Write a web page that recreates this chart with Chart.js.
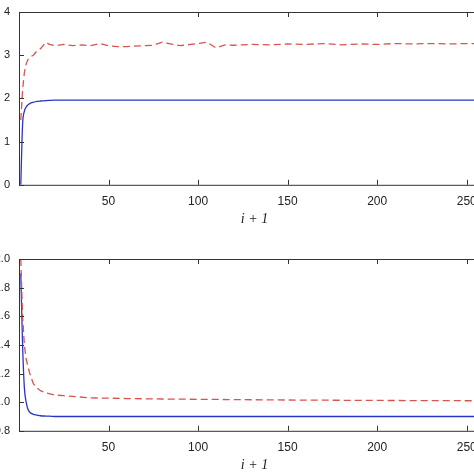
<!DOCTYPE html><html><head><script src="https://cdn.jsdelivr.net/npm/chart.js@4"></script>
<style>body{margin:0;overflow:hidden;background:#fff}.c{position:absolute;left:0;width:490px}</style></head><body>
<div class="c" style="top:0;height:228px"><canvas id="a"></canvas></div>
<div class="c" style="top:247px;height:227px"><canvas id="b"></canvas></div>
<script>
const topX=[1,2,3,4,5,6,8,10,12,15,17,20,25,30,35,40,45,50,55,60,70,75,80,90,100,105,110,115,120,130,140,150,160,170,180,190,200,210,220,230,240,250,263];
const topRed=[1.5,2.2,2.6,2.8,2.9,2.95,3.0,3.1,3.15,3.3,3.25,3.22,3.25,3.22,3.24,3.22,3.27,3.22,3.2,3.2,3.22,3.23,3.3,3.22,3.27,3.3,3.17,3.24,3.23,3.25,3.24,3.26,3.25,3.27,3.24,3.26,3.25,3.27,3.26,3.27,3.26,3.27,3.27];
const topBlue=[0,1.4,1.7,1.8,1.85,1.88,1.91,1.93,1.94,1.95,1.955,1.96,1.96,1.96,1.96,1.96,1.96,1.96,1.96,1.96,1.96,1.96,1.96,1.96,1.96,1.96,1.96,1.96,1.96,1.96,1.96,1.96,1.96,1.96,1.96,1.96,1.96,1.96,1.96,1.96,1.96,1.96,1.96];
const botX=[1,2,3,4,5,6,8,10,12,15,20,25,30,40,50,60,80,100,120,150,200,250,263];
const botRed=[2.0,1.6,1.4,1.3,1.25,1.2,1.13,1.1,1.08,1.065,1.05,1.045,1.04,1.03,1.028,1.025,1.022,1.02,1.018,1.015,1.012,1.01,1.01];
const botBlue=[1.9,1.4,1.1,1.0,0.95,0.93,0.915,0.91,0.905,0.903,0.9,0.9,0.9,0.9,0.9,0.9,0.9,0.9,0.9,0.9,0.9,0.9,0.9];
const xTicks=[50,100,150,200,250];
const frame={id:'frame',afterDraw(c,a,o){const g=c.ctx,ca=c.chartArea;g.save();g.strokeStyle='#333';g.lineWidth=1;g.strokeRect(ca.left+.5,ca.top+.5,ca.right-ca.left,ca.bottom-ca.top);
const xs=c.scales.x,ys=c.scales.y;g.beginPath();xTicks.forEach(t=>{const p=Math.round(xs.getPixelForValue(t))+.5;g.moveTo(p,ca.top);g.lineTo(p,ca.top+5);g.moveTo(p,ca.bottom);g.lineTo(p,ca.bottom-5);});
ys.ticks.forEach(t=>{const p=Math.round(ys.getPixelForValue(t.value))+.5;g.moveTo(ca.left,p);g.lineTo(ca.left+5,p);});g.stroke();
g.fillStyle='#222';g.font='13px "Liberation Serif"';g.translate(-3,(ca.top+ca.bottom)/2);g.rotate(-Math.PI/2);g.textAlign='center';g.fillText(c.options.plugins.frame.t,0,0);g.restore();}};
function mk(id,X,R,B,ymin,ymax,step,ylab){
const pts=(ys)=>X.map((x,i)=>({x,y:ys[i]}));
new Chart(document.getElementById(id),{type:'line',plugins:[frame],data:{datasets:[
{data:pts(R),borderColor:'#d9534f',borderDash:[7,4],borderWidth:1.3,pointRadius:0,tension:0},
{data:pts(B),borderColor:'#2a35c8',borderWidth:1.3,pointRadius:0,cubicInterpolationMode:'monotone'}]},
options:{animation:false,responsive:true,maintainAspectRatio:false,layout:{padding:{top:12,bottom:0,right:0}},
plugins:{legend:{display:false},tooltip:{enabled:false},frame:{t:ylab}},
scales:{x:{type:'linear',min:0,max:263,afterBuildTicks:s=>{s.ticks=xTicks.map(v=>({value:v}))},grid:{display:false},border:{display:false},
ticks:{color:'#222',font:{family:'Liberation Sans',size:12},maxRotation:0,padding:2},title:{display:true,text:'i + 1',font:{family:'Liberation Serif',size:14,style:'italic'},color:'#222',padding:{top:0,bottom:0}}},
y:{min:ymin,max:ymax,afterFit:s=>{s.width=19},grid:{display:false},border:{display:false},ticks:{stepSize:step,color:'#222',font:{family:'Liberation Sans',size:11},padding:1}}}}});}
mk('a',topX,topRed,topBlue,0,4,1,'E(X\u1d62\u208a\u2081 | X\u1d62 = x\u1d62)');
mk('b',botX,botRed,botBlue,0.8,2,0.2,'E(X\u1d62\u208a\u2081 | X\u1d62)');
</script></body></html>
